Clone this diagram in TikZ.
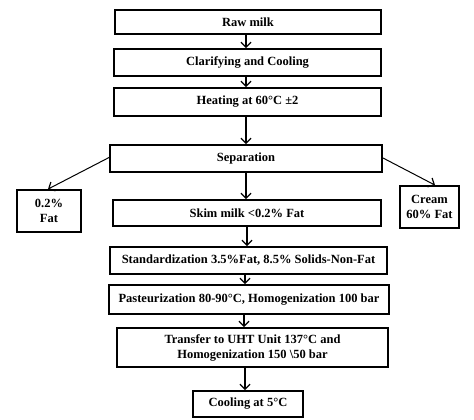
\documentclass[tikz,border=0pt]{standalone}
\usepackage{fontspec}
\setmainfont{Liberation Serif}
\usetikzlibrary{arrows.meta}
\begin{document}
\begin{tikzpicture}[x=1pt,y=-1pt,
  box/.style={draw,line width=1.8pt,inner sep=0pt,font=\bfseries\fontsize{12.5}{15}\selectfont,align=center},
  arr/.style={line width=1.3pt,-{Straight Barb[length=5pt,width=10pt,line width=1.3pt]}},
  darr/.style={line width=1pt,-{Straight Barb[length=5pt,width=10pt,line width=1.2pt]}}]
\useasboundingbox (0,0) rectangle (474,420);
\def\bx#1#2#3#4#5#6{\node[box,minimum width={#4-#2},minimum height={#5-#3}] (#1) at ({(#2+#4)/2},{(#3+#5)/2}) {#6};}
\bx{raw}{115}{10}{381}{34}{Raw milk}
\bx{clar}{114}{49}{381}{76}{Clarifying and Cooling}
\bx{heat}{114}{88}{381}{116}{Heating at 60°C ±2}
\bx{sep}{110}{145}{382}{172}{Separation}
\bx{lowfat}{17}{190}{81}{232}{0.2\%\\Fat}
\bx{cream}{400}{186}{459}{228}{Cream\\60\% Fat}
\bx{skim}{113}{200}{381}{226}{Skim milk <0.2\% Fat}
\bx{std}{110}{247}{387}{274}{Standardization 3.5\%Fat, 8.5\% Solids-Non-Fat}
\bx{past}{109}{285}{389}{314}{Pasteurization 80-90°C, Homogenization 100 bar}
\bx{uht}{117}{328}{388}{367}{Transfer to UHT Unit 137°C and\\Homogenization 150 \textbackslash50 bar}
\bx{cool}{193}{391}{303}{417}{Cooling at 5°C}
\draw[arr] (raw.south -| 246,0) -- (clar.north -| 246,0);
\draw[arr] (clar.south -| 246,0) -- (heat.north -| 246,0);
\draw[arr] (heat.south -| 246,0) -- (sep.north -| 246,0);
\draw[arr] (sep.south -| 246,0) -- (skim.north -| 246,0);
\draw[arr] (skim.south -| 247,0) -- (std.north -| 247,0);
\draw[arr] (std.south -| 245,0) -- (past.north -| 245,0);
\draw[arr] (past.south -| 244,0) -- (uht.north -| 244,0);
\draw[arr] (uht.south -| 245,0) -- (cool.north -| 245,0);
\coordinate (sl) at (110,157);
\coordinate (sr) at (383,158);
\draw[darr] (sl) -- (lowfat.north -| 48,0);
\draw[darr] (sr) -- (cream.north -| 435,0);
\end{tikzpicture}
\end{document}
